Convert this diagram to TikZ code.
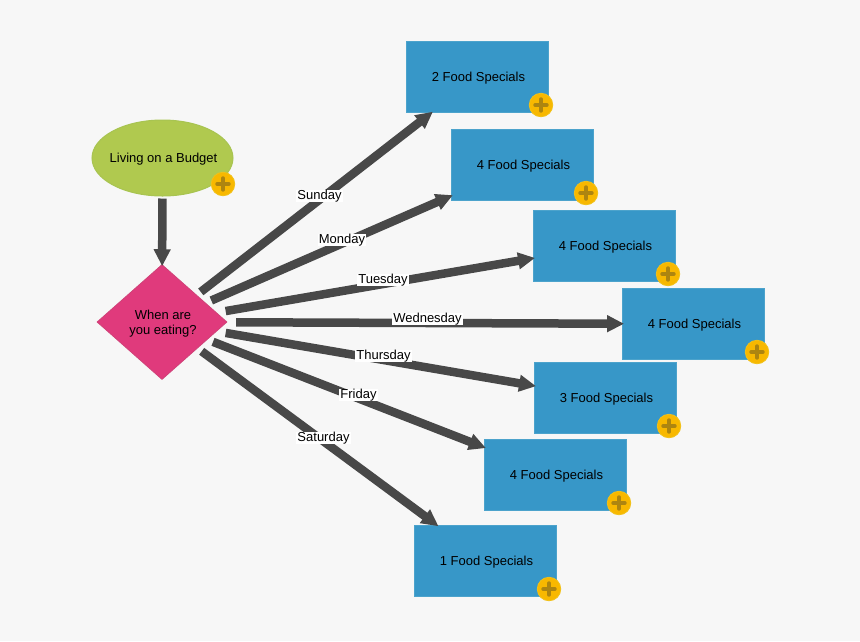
\documentclass[tikz,border=0pt]{standalone}
\usepackage{fontspec}
\setmainfont{Liberation Sans}
\usetikzlibrary{shapes.geometric,arrows.meta}

\definecolor{pagegray}{HTML}{F7F7F7}
\definecolor{boxblue}{HTML}{3797C8}
\definecolor{boxline}{HTML}{4CA3CC}
\definecolor{ovalgreen}{HTML}{B0C94F}
\definecolor{ovalline}{HTML}{A8C451}
\definecolor{gemrose}{HTML}{E03A7C}
\definecolor{gemline}{HTML}{D04278}
\definecolor{badgegold}{HTML}{F8B800}
\definecolor{badgeline}{HTML}{F2C118}
\definecolor{plusbrown}{HTML}{AD8510}
\definecolor{arrowgray}{HTML}{484848}

\tikzset{
  foodbox/.style={draw=boxline, fill=boxblue, line width=0.8pt, minimum width=142pt, minimum height=71pt, inner sep=0pt, text height=10pt, text depth=1pt, execute at begin node=\hspace*{2pt}, font=\fontsize{13}{14}\selectfont},
  plusbadge/.style={circle, draw=badgeline, fill=badgegold, line width=0.8pt, minimum size=23.5pt, inner sep=0pt,
    path picture={\draw[plusbrown, line width=3.4pt, line cap=round]
      ([xshift=-6pt]path picture bounding box.center) -- ([xshift=6pt]path picture bounding box.center)
      ([yshift=-6pt]path picture bounding box.center) -- ([yshift=6pt]path picture bounding box.center);}},
  flowarrow/.style={draw=arrowgray, line width=8.5pt, shorten >=-2pt, -{Triangle[width=16pt, length=17pt, fill=arrowgray]}},
  daylabel/.style={fill=white, inner xsep=1pt, inner ysep=0pt, font=\fontsize{13}{14}\selectfont}
}

\begin{document}
\begin{tikzpicture}[x=1pt, y=-1pt]

\useasboundingbox[fill=pagegray] (0,0) rectangle (860,641);

% Start and decision
\node[ellipse, draw=ovalline, fill=ovalgreen, line width=1pt, minimum width=141pt, minimum height=76pt, inner xsep=-6pt, inner ysep=0pt, text height=10pt, text depth=1pt, execute at begin node=\hspace*{2pt}, font=\fontsize{13}{14}\selectfont] (budget) at (162.5,158) {Living on a Budget};
\node[diamond, draw=gemline, fill=gemrose, line width=0.8pt, minimum width=130pt, minimum height=115pt, aspect=1.13, inner sep=0pt, align=center, font=\fontsize{13}{15}\selectfont] (eating) at (162,322) {\rule{0pt}{12pt}\hspace*{2pt}When are\\\hspace*{2pt}you eating?};

% Food boxes
\node[foodbox] (sunfood) at (477.5,77) {2 Food Specials};
\node[foodbox] (monfood) at (522.5,165) {4 Food Specials};
\node[foodbox] (tuefood) at (604.5,246) {4 Food Specials};
\node[foodbox] (wedfood) at (693.5,324) {4 Food Specials};
\node[foodbox] (thufood) at (605.5,398) {3 Food Specials};
\node[foodbox] (frifood) at (555.5,475) {4 Food Specials};
\node[foodbox] (satfood) at (485.5,561) {1 Food Specials};

% Connections
\draw[flowarrow, shorten <=2pt] (budget) -- (eating);
\draw[flowarrow, shorten <=5pt] (eating) -- (sunfood);
\draw[flowarrow, shorten <=6pt] (eating) -- (monfood);
\draw[flowarrow, shorten <=9pt] (eating) -- (tuefood);
\draw[flowarrow, shorten <=9pt] (eating) -- (wedfood);
\draw[flowarrow, shorten <=9pt] (eating) -- (thufood);
\draw[flowarrow, shorten <=6pt] (eating) -- (frifood);
\draw[flowarrow, shorten <=5pt] (eating) -- (satfood);

% Day labels
\node[daylabel] (sunday) at (319.5,196) {Sunday};
\node[daylabel] (monday) at (342,240) {Monday};
\node[daylabel] (tuesday) at (383,280) {Tuesday};
\node[daylabel] (wednesday) at (427.5,319) {Wednesday};
\node[daylabel] (thursday) at (383.5,356) {Thursday};
\node[daylabel] (friday) at (358.5,395) {Friday};
\node[daylabel] (saturday) at (323.5,438) {Saturday};

% Plus badges
\node[plusbadge] (budgetplus) at (223,184) {};
\node[plusbadge] (sunplus) at (541,105) {};
\node[plusbadge] (monplus) at (586,193) {};
\node[plusbadge] (tueplus) at (668,274) {};
\node[plusbadge] (wedplus) at (757,352) {};
\node[plusbadge] (thuplus) at (669,426) {};
\node[plusbadge] (friplus) at (619,503) {};
\node[plusbadge] (satplus) at (549,589) {};

\end{tikzpicture}
\end{document}
